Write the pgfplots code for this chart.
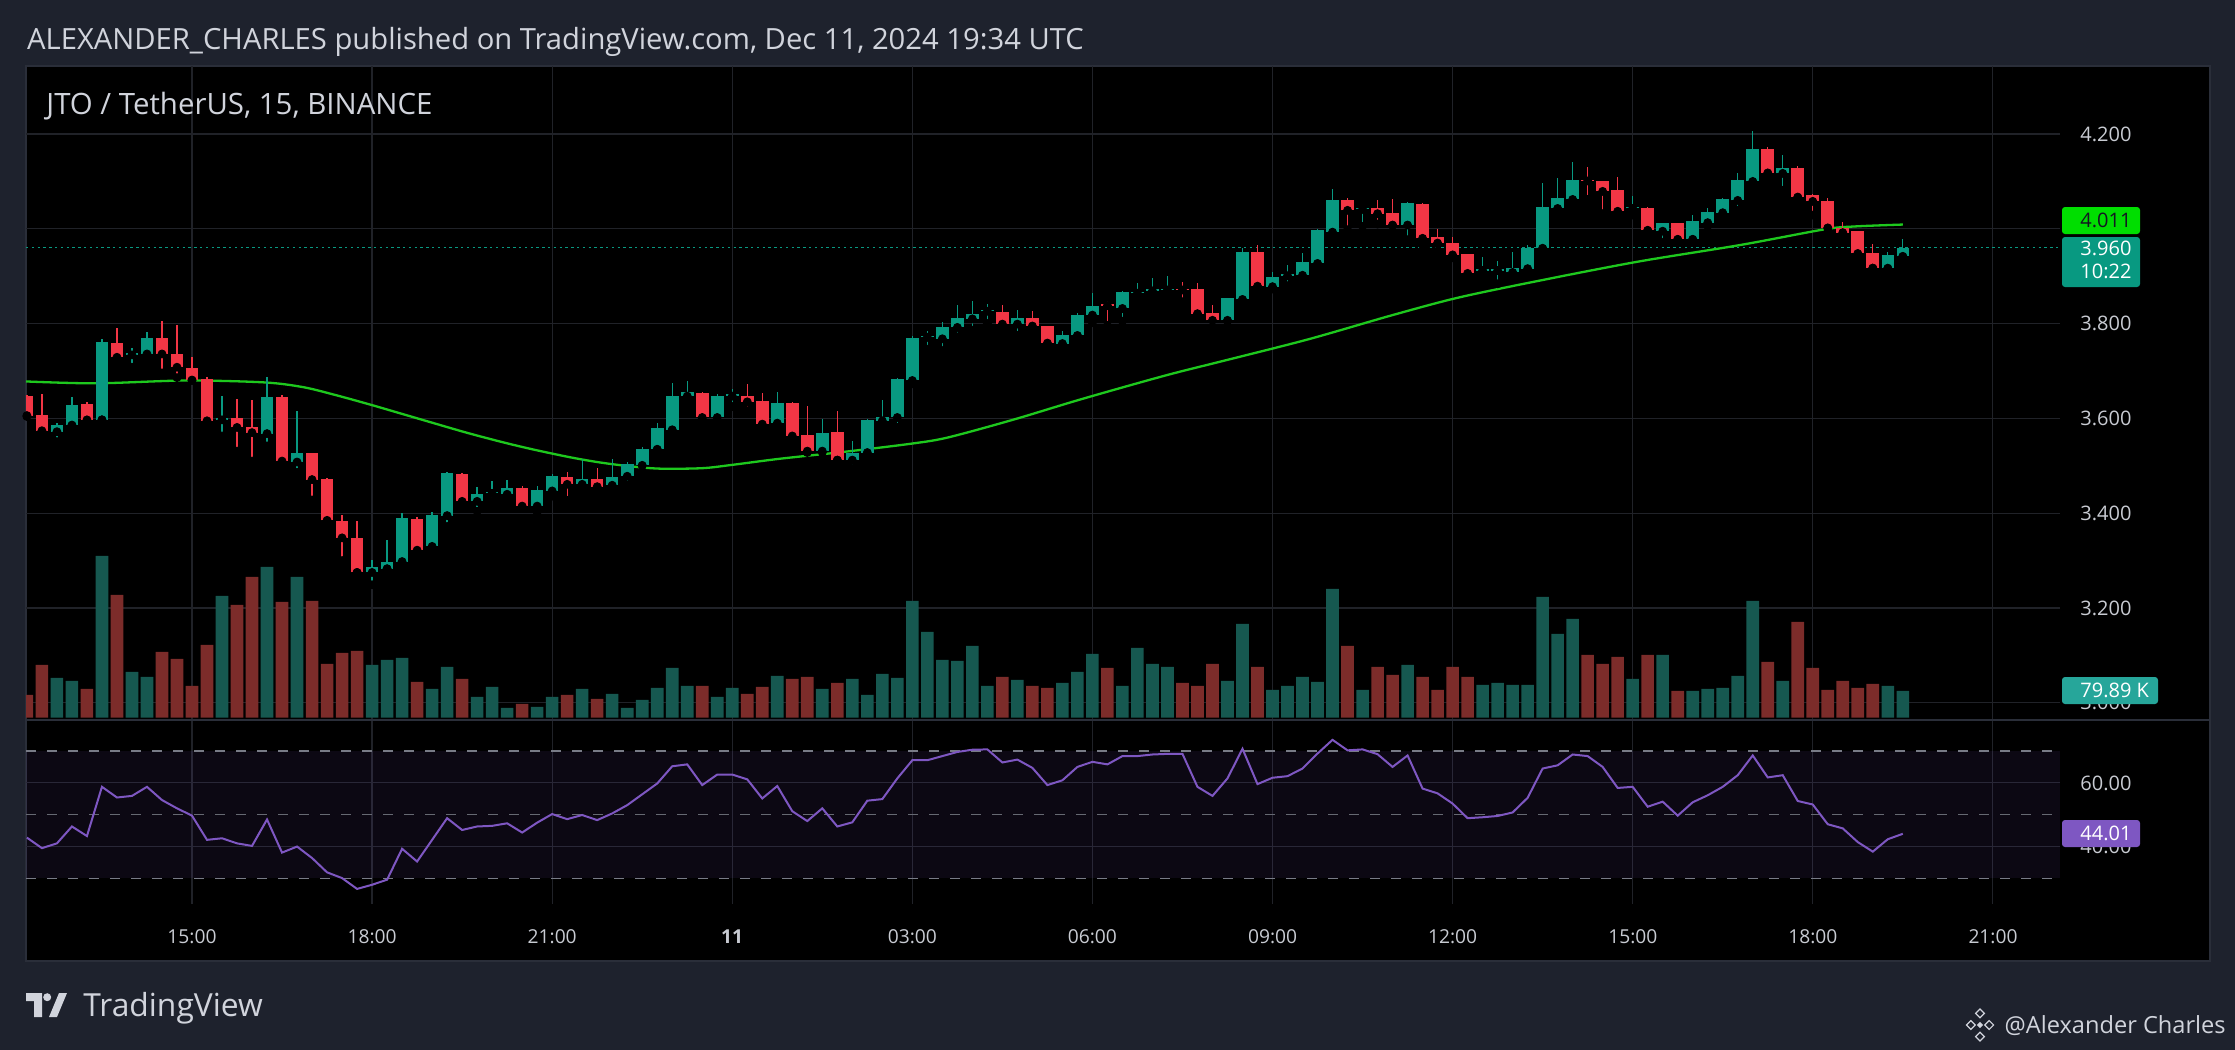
\documentclass[border=0pt]{standalone}
\usepackage{fontspec}
\setmainfont{Open Sans}
\usepackage{pgfplots}
\usepackage{pgfplotstable}
\pgfplotsset{compat=1.18}
\definecolor{bgc}{RGB}{30,34,45}
\definecolor{txt}{RGB}{209,212,220}
\definecolor{axc}{RGB}{200,203,210}
\definecolor{gridc}{RGB}{32,34,40}
\definecolor{upc}{RGB}{8,153,129}
\definecolor{dnc}{RGB}{242,54,69}
\definecolor{vup}{RGB}{22,88,80}
\definecolor{vdn}{RGB}{124,44,42}
\definecolor{emac}{RGB}{30,200,30}
\definecolor{emalab}{RGB}{0,222,0}
\definecolor{rsic}{RGB}{126,87,194}
\definecolor{dashc}{RGB}{120,123,134}
\definecolor{panelc}{RGB}{42,46,57}
\definecolor{vollab}{RGB}{38,166,154}
\newcommand{\fs}[1]{\fontsize{#1}{#1}\selectfont}

\pgfplotstableread{
k O H L C V
2 3.572 3.590 3.551 3.586 119
3 3.586 3.645 3.585 3.628 110
5 3.597 3.767 3.597 3.761 485
7 3.734 3.748 3.708 3.738 137
8 3.736 3.782 3.724 3.770 122
13 3.597 3.648 3.563 3.600 365
16 3.568 3.687 3.542 3.645 452
18 3.508 3.616 3.486 3.528 422
23 3.275 3.302 3.249 3.286 158
24 3.283 3.343 3.282 3.298 173
25 3.298 3.401 3.284 3.390 179
27 3.330 3.402 3.320 3.397 86
28 3.395 3.486 3.372 3.484 152
30 3.425 3.456 3.404 3.440 62
31 3.442 3.468 3.425 3.445 92
32 3.440 3.470 3.435 3.454 29
34 3.415 3.457 3.402 3.449 32
35 3.447 3.482 3.436 3.478 62
37 3.461 3.514 3.459 3.473 86
39 3.459 3.514 3.457 3.477 71
40 3.478 3.508 3.459 3.503 29
41 3.501 3.539 3.500 3.536 53
42 3.535 3.590 3.534 3.579 89
43 3.576 3.675 3.575 3.647 149
44 3.647 3.678 3.635 3.655 95
46 3.602 3.652 3.592 3.647 62
47 3.647 3.662 3.625 3.652 89
50 3.590 3.655 3.574 3.633 125
53 3.531 3.599 3.528 3.570 86
55 3.512 3.553 3.494 3.527 116
56 3.528 3.599 3.517 3.596 68
57 3.595 3.639 3.584 3.604 131
58 3.602 3.685 3.581 3.683 119
59 3.680 3.774 3.673 3.770 350
60 3.771 3.784 3.746 3.774 257
61 3.768 3.804 3.743 3.793 173
62 3.792 3.840 3.772 3.812 170
63 3.810 3.848 3.786 3.821 215
64 3.826 3.841 3.800 3.829 95
66 3.799 3.828 3.775 3.811 113
69 3.758 3.785 3.756 3.775 104
70 3.775 3.823 3.774 3.819 137
71 3.818 3.865 3.802 3.837 191
73 3.832 3.869 3.805 3.866 95
74 3.864 3.885 3.848 3.867 209
75 3.869 3.897 3.852 3.872 161
76 3.871 3.900 3.860 3.874 152
80 3.807 3.855 3.805 3.853 110
81 3.851 3.959 3.850 3.951 281
83 3.878 3.908 3.873 3.899 83
84 3.901 3.923 3.880 3.904 95
85 3.902 3.948 3.891 3.929 122
86 3.927 4.000 3.925 3.998 107
87 3.993 4.083 3.989 4.060 386
89 4.041 4.044 4.005 4.044 83
92 4.008 4.056 3.977 4.054 158
97 3.912 3.941 3.899 3.915 98
98 3.912 3.932 3.884 3.915 104
99 3.908 3.952 3.907 3.917 98
100 3.916 3.966 3.908 3.960 98
101 3.959 4.097 3.958 4.045 362
102 4.043 4.107 4.041 4.064 251
103 4.062 4.142 4.060 4.103 296
107 4.043 4.069 4.029 4.046 116
109 3.995 4.013 3.971 4.013 188
111 3.978 4.029 3.977 4.016 80
112 4.013 4.044 4.006 4.036 86
113 4.034 4.066 4.020 4.062 89
114 4.060 4.118 4.039 4.102 125
115 4.100 4.207 4.099 4.169 350
117 4.117 4.156 4.081 4.128 110
124 3.917 3.952 3.916 3.945 95
125 3.942 3.978 3.941 3.960 80
}\upT

\pgfplotstableread{
k O H L C V
0 3.648 3.650 3.604 3.606 68
1 3.607 3.652 3.570 3.574 158
4 3.630 3.634 3.584 3.597 86
6 3.759 3.791 3.719 3.729 368
9 3.770 3.805 3.696 3.736 197
10 3.736 3.798 3.686 3.708 176
11 3.706 3.729 3.680 3.681 95
12 3.683 3.687 3.584 3.595 218
14 3.600 3.642 3.531 3.581 338
15 3.581 3.639 3.510 3.570 422
17 3.645 3.650 3.505 3.510 347
19 3.528 3.528 3.428 3.471 350
20 3.473 3.474 3.383 3.385 161
21 3.384 3.397 3.300 3.348 194
22 3.348 3.383 3.275 3.275 200
26 3.388 3.392 3.318 3.322 107
29 3.482 3.484 3.420 3.425 116
33 3.454 3.457 3.413 3.415 41
36 3.477 3.486 3.427 3.461 68
38 3.473 3.496 3.447 3.456 56
45 3.654 3.655 3.599 3.602 95
48 3.648 3.673 3.616 3.635 71
49 3.636 3.654 3.584 3.588 92
51 3.633 3.635 3.555 3.563 116
52 3.565 3.627 3.528 3.531 122
54 3.572 3.616 3.512 3.512 104
65 3.825 3.840 3.784 3.799 122
67 3.811 3.826 3.782 3.795 95
68 3.795 3.796 3.749 3.759 89
72 3.841 3.848 3.796 3.838 149
77 3.874 3.887 3.846 3.871 104
78 3.872 3.885 3.820 3.821 95
79 3.823 3.840 3.792 3.807 161
82 3.951 3.965 3.863 3.879 152
88 4.061 4.065 3.998 4.039 215
90 4.044 4.060 4.010 4.032 152
91 4.033 4.063 4.007 4.008 128
93 4.052 4.054 3.966 3.980 122
94 3.982 4.000 3.968 3.970 83
95 3.971 3.982 3.939 3.945 152
96 3.947 3.947 3.897 3.906 122
104 4.104 4.130 4.062 4.101 188
105 4.100 4.100 4.032 4.079 161
106 4.081 4.109 4.029 4.037 182
108 4.044 4.046 3.996 3.997 188
110 4.013 4.013 3.976 3.978 80
116 4.169 4.172 4.116 4.118 167
118 4.129 4.132 4.066 4.067 287
119 4.071 4.074 4.029 4.058 149
120 4.058 4.065 4.001 4.002 83
121 4.002 4.015 3.990 3.992 110
122 3.996 3.996 3.945 3.948 89
123 3.948 3.969 3.917 3.917 101
}\dnT

\pgfplotstableread{
t e
12.23 3.678
13.40 3.674
14.90 3.680
16.20 3.676
16.85 3.666
17.40 3.649
18.00 3.628
18.46 3.611
19.00 3.591
19.60 3.569
20.20 3.549
20.70 3.534
21.30 3.518
21.80 3.507
22.30 3.499
22.80 3.494
23.50 3.495
24.00 3.502
24.80 3.515
25.90 3.530
27.00 3.547
27.60 3.560
28.70 3.598
29.80 3.640
31.20 3.690
32.20 3.722
33.60 3.767
35.00 3.818
36.10 3.855
37.50 3.892
39.10 3.931
40.80 3.966
42.20 3.999
42.70 4.005
43.50 4.009
}\emaT

\pgfplotstableread{
k r
0 42.8
1 39.5
2 41.0
3 46.3
4 43.3
5 58.75
6 55.4
7 55.9
8 58.75
9 54.6
10 52.0
11 49.7
12 42.1
13 42.6
14 41.0
15 40.2
16 48.5
17 38.1
18 40.0
19 36.4
20 31.9
21 30.1
22 26.7
23 28.0
24 29.6
25 39.3
26 35.3
27 42.1
28 48.9
29 45.2
30 46.3
31 46.5
32 47.3
33 44.4
34 47.5
35 50.2
36 48.6
37 49.9
38 48.3
39 50.4
40 53.0
41 56.4
42 59.8
43 65.2
44 65.8
45 59.3
46 62.6
47 62.6
48 61.1
49 55.1
50 59.0
51 51.1
52 48.0
53 52.0
54 46.3
55 47.6
56 54.4
57 54.9
58 61.4
59 67.1
60 67.1
61 68.4
62 69.7
63 70.4
64 70.5
65 66.4
66 67.3
67 64.7
68 59.3
69 60.8
70 65.0
71 66.6
72 65.8
73 68.4
74 68.4
75 68.9
76 69.1
77 69.1
78 58.75
79 55.9
80 61.4
81 70.7
82 59.6
83 61.6
84 62.1
85 64.5
86 69.2
87 73.5
88 70.2
89 70.5
90 69.0
91 65.0
92 68.6
93 58.2
94 56.7
95 53.5
96 48.9
97 49.2
98 49.6
99 50.7
100 55.3
101 64.5
102 65.5
103 68.9
104 68.4
105 65.0
106 58.4
107 58.75
108 52.5
109 54.1
110 49.7
111 53.9
112 56.1
113 58.75
114 62.4
115 68.6
116 61.7
117 62.4
118 54.3
119 53.2
120 47.0
121 45.7
122 41.4
123 38.4
124 42.3
125 44.0
}\rsiT

\pgfplotsset{
  base/.style={scale only axis, width=1017pt, anchor=south west,
    xmin=12.2347, xmax=46.118,
    axis line style={draw=none}, major tick length=0pt,
    xticklabels={}, yticklabels={}, clip=true},
}

\begin{document}
\begin{tikzpicture}
\useasboundingbox (0,0) rectangle (1117.5pt,-525pt);
\fill[bgc] (0,0) rectangle (1117.5pt,-525pt);
\fill[black] (13pt,-33pt) rectangle (1105pt,-480.5pt);
\draw[panelc, line width=0.6pt] (13pt,-33pt) rectangle (1105pt,-480.5pt);

% grid of price pane
\begin{axis}[base, at={(13pt,-360pt)}, height=327pt,
  ymin=2.9637, ymax=4.3435,
  xtick={15,18,...,45}, ytick={3.0,3.2,3.4,3.6,3.8,4.0,4.2},
  xmajorgrids, ymajorgrids, major grid style={gridc, line width=0.6pt}]
\addplot[upc, line width=0.6pt, dash pattern=on 1.2pt off 1.7pt] coordinates {(12.2347,3.96) (46.118,3.96)};
\end{axis}

% volume
\begin{axis}[base, at={(13pt,-360pt)}, height=327pt,
  ymin=-7.5, ymax=1954.5, xtick=\empty, ytick=\empty]
\addplot[ybar, bar width=6.3pt, bar shift=0pt, fill=vup, draw=none] table[x expr=12.25+0.25*\thisrow{k}, y=V] {\upT};
\addplot[ybar, bar width=6.3pt, bar shift=0pt, fill=vdn, draw=none] table[x expr=12.25+0.25*\thisrow{k}, y=V] {\dnT};
\end{axis}

% candles and EMA
\begin{axis}[base, at={(13pt,-360pt)}, height=327pt,
  ymin=2.9637, ymax=4.3435, xtick=\empty, ytick=\empty]
\addplot[emac, line width=1.15pt, smooth] table[x=t, y=e] {\emaT};
\addplot[only marks, mark=none, error bars/.cd, y dir=plus, y explicit, error mark=none,
  error bar style={line width=0.65pt, color=upc}]
  table[x expr=12.25+0.25*\thisrow{k}, y=L, y error expr=\thisrow{H}-\thisrow{L}] {\upT};
\addplot[only marks, mark=none, error bars/.cd, y dir=plus, y explicit, error mark=none,
  error bar style={line width=0.65pt, color=dnc}]
  table[x expr=12.25+0.25*\thisrow{k}, y=L, y error expr=\thisrow{H}-\thisrow{L}] {\dnT};
\addplot[only marks, mark=none, error bars/.cd, y dir=plus, y explicit, error mark=none,
  error bar style={line width=6.3pt, color=upc}]
  table[x expr=12.25+0.25*\thisrow{k}, y=O, y error expr=\thisrow{C}-\thisrow{O}] {\upT};
\addplot[only marks, mark=none, error bars/.cd, y dir=plus, y explicit, error mark=none,
  error bar style={line width=6.3pt, color=dnc}]
  table[x expr=12.25+0.25*\thisrow{k}, y=C, y error expr=\thisrow{O}-\thisrow{C}] {\dnT};
\end{axis}

% RSI pane
\begin{axis}[base, at={(13pt,-452pt)}, height=92pt,
  ymin=21.96, ymax=79.73,
  xtick={15,18,...,45}, ytick={40,60},
  xmajorgrids, ymajorgrids, major grid style={gridc, line width=0.6pt}]
\fill[rsic, fill opacity=0.1] (axis cs:12.2347,30) rectangle (axis cs:46.118,70);
\draw[dashc, line width=0.6pt, dash pattern=on 5pt off 5.5pt] (axis cs:12.2347,70) -- (axis cs:46.118,70);
\draw[dashc!85!black, line width=0.6pt, dash pattern=on 5pt off 5.5pt] (axis cs:12.2347,50) -- (axis cs:46.118,50);
\draw[dashc, line width=0.6pt, dash pattern=on 5pt off 5.5pt] (axis cs:12.2347,30) -- (axis cs:46.118,30);
\addplot[rsic, line width=1pt] table[x expr=12.25+0.25*\thisrow{k}, y=r] {\rsiT};
\end{axis}

\draw[panelc, line width=1pt] (13pt,-360pt) -- (1105pt,-360pt);

% header
\node[anchor=base west, inner sep=0, text=txt, font=\fs{14.6pt}] at (13.4pt,-24.5pt) {ALEXANDER\_CHARLES published on TradingView.com, Dec 11, 2024 19:34 UTC};
\node[anchor=base west, inner sep=0, text=txt, font=\fs{14.7pt}] at (23pt,-57pt) {JTO / TetherUS, 15, BINANCE};

% price scale
\foreach \p/\y in {4.200/-70.55, 3.800/-165.35, 3.600/-212.75, 3.400/-260.15, 3.200/-307.55, 3.000/-354.95, 60.00/-395, 40.00/-426.8}
  \node[anchor=base west, inner sep=0, text=axc, font=\fs{10pt}] at (1040pt,\y pt) {\p};

% time scale
\foreach \lab/\x in {15:00/96, 18:00/186.05, 21:00/276.1, 03:00/456.2, 06:00/546.2, 09:00/636.3, 12:00/726.3, 15:00/816.4, 18:00/906.4, 21:00/996.5}
  \node[anchor=base, inner sep=0, text=axc, font=\fs{9.6pt}] at (\x pt,-471.5pt) {\lab};
\node[anchor=base, inner sep=0, text=axc, font=\fs{9.6pt}\bfseries] at (366.1pt,-471.5pt) {11};

% price labels
\fill[emalab, rounded corners=1.5pt] (1031pt,-103.5pt) rectangle (1070pt,-117pt);
\node[anchor=base west, inner sep=0, text={rgb,255:red,19;green,23;blue,34}, font=\fs{10pt}] at (1040pt,-113.8pt) {4.011};
\fill[upc, rounded corners=1.5pt] (1031pt,-118.5pt) rectangle (1070pt,-143.5pt);
\node[anchor=base west, inner sep=0, text=white, font=\fs{10pt}] at (1040pt,-127.55pt) {3.960};
\node[anchor=base west, inner sep=0, text=white, font=\fs{10pt}] at (1040pt,-139.05pt) {10:22};
\fill[vollab, rounded corners=1.5pt] (1031pt,-338.5pt) rectangle (1079pt,-352pt);
\node[anchor=base west, inner sep=0, text=white, font=\fs{10pt}] at (1040pt,-348.8pt) {79.89 K};
\fill[rsic, rounded corners=1.5pt] (1031pt,-410pt) rectangle (1070pt,-423.5pt);
\node[anchor=base west, inner sep=0, text=white, font=\fs{10pt}] at (1040pt,-420.3pt) {44.01};

% footer
\fill[txt] (13pt,-496.5pt) -- (21pt,-496.5pt) -- (21pt,-508.5pt) -- (17pt,-508.5pt) -- (17pt,-500.5pt) -- (13pt,-500.5pt) -- cycle;
\fill[txt] (23.6pt,-498.6pt) circle (2pt);
\fill[txt] (24.5pt,-508.5pt) -- (29.5pt,-496.5pt) -- (33.5pt,-496.5pt) -- (28.5pt,-508.5pt) -- cycle;
\node[anchor=base west, inner sep=0, text=txt, font=\fs{15.9pt}] at (41.5pt,-508.35pt) {TradingView};
\begin{scope}[txt, line width=0.6pt]
  \draw (990pt,-504.5pt) -- (992.2pt,-506.7pt) -- (990pt,-508.9pt) -- (987.8pt,-506.7pt) -- cycle;
  \draw (990pt,-516.1pt) -- (992.2pt,-518.3pt) -- (990pt,-520.5pt) -- (987.8pt,-518.3pt) -- cycle;
  \draw (985.4pt,-510.3pt) -- (987.6pt,-512.5pt) -- (985.4pt,-514.7pt) -- (983.2pt,-512.5pt) -- cycle;
  \draw (994.6pt,-510.3pt) -- (996.8pt,-512.5pt) -- (994.6pt,-514.7pt) -- (992.4pt,-512.5pt) -- cycle;
  \fill (990pt,-510.9pt) -- (991.6pt,-512.5pt) -- (990pt,-514.1pt) -- (988.4pt,-512.5pt) -- cycle;
\end{scope}
\node[anchor=base east, inner sep=0, text=txt, font=\fs{11.8pt}] at (1113pt,-516.5pt) {@Alexander Charles};
\end{tikzpicture}
\end{document}
